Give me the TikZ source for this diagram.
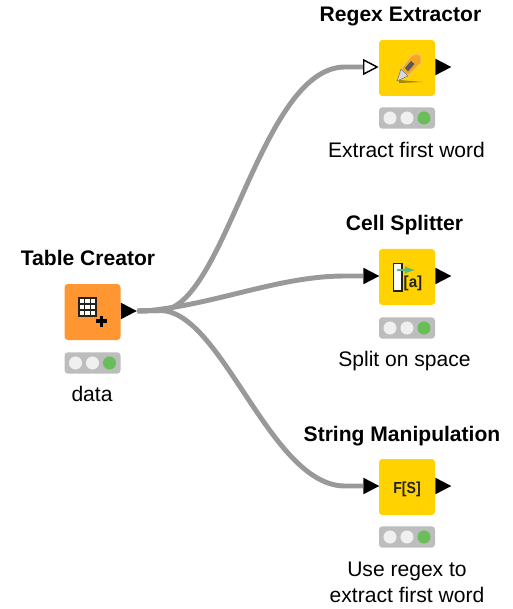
\documentclass[tikz,border=0pt]{standalone}
\usepackage{fontspec}
\setmainfont{Liberation Sans}
\usetikzlibrary{shapes.geometric}
\definecolor{srcorange}{RGB}{255,150,50}
\definecolor{mgryellow}{RGB}{255,210,0}
\definecolor{wiregray}{RGB}{153,153,153}
\definecolor{lightbar}{RGB}{189,189,189}
\definecolor{lampoff}{RGB}{240,240,240}
\definecolor{lampon}{RGB}{106,190,90}
\definecolor{arrowgreen}{RGB}{90,185,125}
\definecolor{knifebody}{RGB}{245,165,30}
\definecolor{inkdark}{RGB}{35,35,25}
\tikzset{
  nodebox/.style={rounded corners=2.5pt,minimum size=42pt,inner sep=0pt},
  lightbox/.style={fill=lightbar,rounded corners=2.5pt,minimum width=42pt,minimum height=16pt,inner sep=0pt},
  lamp/.style={circle,minimum size=9.8pt,inner sep=0pt},
  portout/.style={isosceles triangle,isosceles triangle stretches,fill=black,minimum width=12.5pt,minimum height=12pt,inner sep=0pt,anchor=west},
  portopen/.style={portout,fill=white,draw=black,line width=1.1pt,minimum width=10.5pt,minimum height=10pt},
  title/.style={font=\bfseries\fontsize{15.8}{18}\selectfont,inner sep=0pt,anchor=base},
  caption/.style={font=\fontsize{15.8}{19.5}\selectfont,align=center,inner sep=0pt},
  iconfont/.style={font=\fontsize{12}{12}\selectfont\bfseries,text=inkdark,inner sep=0pt},
  wire/.style={wiregray,line width=3.7pt}
}
\begin{document}
\begin{tikzpicture}[x=0.75pt,y=-0.75pt]
  \useasboundingbox (0,0) rectangle (512,609);

  \node[nodebox,fill=srcorange] (creator) at (92.5,312) {};
  \node[nodebox,fill=mgryellow] (regex) at (407,68) {};
  \node[nodebox,fill=mgryellow] (split) at (407,277) {};
  \node[nodebox,fill=mgryellow] (manip) at (407,487) {};
  \node[portout] (creatorout) at (120.5,311) {};
  \node[portopen] (regexin) at (363,67) {};
  \node[portout] (splitin) at (363,276) {};
  \node[portout] (manipin) at (363,486) {};
  \node[portout] (regexout) at (435,67) {};
  \node[portout] (splitout) at (435,276) {};
  \node[portout] (manipout) at (435,486) {};

  \draw[wire] (creatorout.east) -- (160,310.5) .. controls (225,310.5) and (260,67) .. (345,67) -- (regexin.west);
  \draw[wire] (creatorout.east) -- (150,310.5) .. controls (220,303) and (280,276) .. (345,276) -- (splitin.west);
  \draw[wire] (creatorout.east) -- (160,310.5) .. controls (222,310.5) and (270,486) .. (345,486) -- (manipin.west);

  \foreach \name/\lx/\ly in {creator/92.5/363,regex/407/118,split/407/328,manip/407/537} {
    \node[lightbox] (\name bar) at (\lx,\ly) {};
    \node[lamp,fill=lampoff] (\name red) at (\lx-17,\ly) {};
    \node[lamp,fill=lampoff] (\name yellow) at (\lx,\ly) {};
    \node[lamp,fill=lampon] (\name green) at (\lx+17,\ly) {};
  }

  \fill[white] (79,298) rectangle (96,316);
  \draw[inkdark,line width=0.95pt] (79,304) -- (96,304) (79,310) -- (96,310) (84.7,298) -- (84.7,316) (90.3,298) -- (90.3,316);
  \draw[inkdark,line width=1.2pt] (79,298) rectangle (96,316);
  \draw[black,line width=2.6pt] (96,321) -- (107,321) (101.5,315.5) -- (101.5,326.5);

  \fill[black!35!mgryellow] (399,80) -- (423,82) -- (399,83) -- cycle;
  \fill[knifebody,draw=knifebody!70!white,line width=0.9pt,rounded corners=2pt] (401,69) -- (412,55) -- (420,54) -- (422,62) -- (408,76) -- cycle;
  \fill[black!65] (405,68) -- (411,61) -- (414.5,64) -- (408,71.5) -- cycle;
  \fill[white!85!black,draw=black!55,line width=0.4pt] (401,69) -- (408,76) -- (397,81) -- cycle;

  \fill[white] (393.5,263.5) rectangle (402,291);
  \draw[inkdark,line width=1.3pt] (393.5,263.5) rectangle (402,291);
  \draw[arrowgreen,line width=1.6pt,-latex] (397,270) -- (415,270);
  \node[iconfont] (spliticon) at (413,283) {\scalebox{0.95}[1]{[a]}};
  \node[iconfont] (manipicon) at (407,489) {\scalebox{0.88}[1]{F[S]}};

  \node[title] (creatorlabel) at (88,265) {Table Creator};
  \node[title] (regexlabel) at (400.5,22) {Regex Extractor};
  \node[title] (splitlabel) at (404.5,231) {Cell Splitter};
  \node[title] (maniplabel) at (402,441) {String Manipulation};
  \node[caption,anchor=base] (creatortext) at (92,401) {data};
  \node[caption,anchor=base] (regextext) at (406.5,158) {Extract first word};
  \node[caption,anchor=base] (splittext) at (404.5,366) {Split on space};
  \node[caption] (maniptext) at (407,582) {Use regex to\\extract first word};
\end{tikzpicture}
\end{document}
